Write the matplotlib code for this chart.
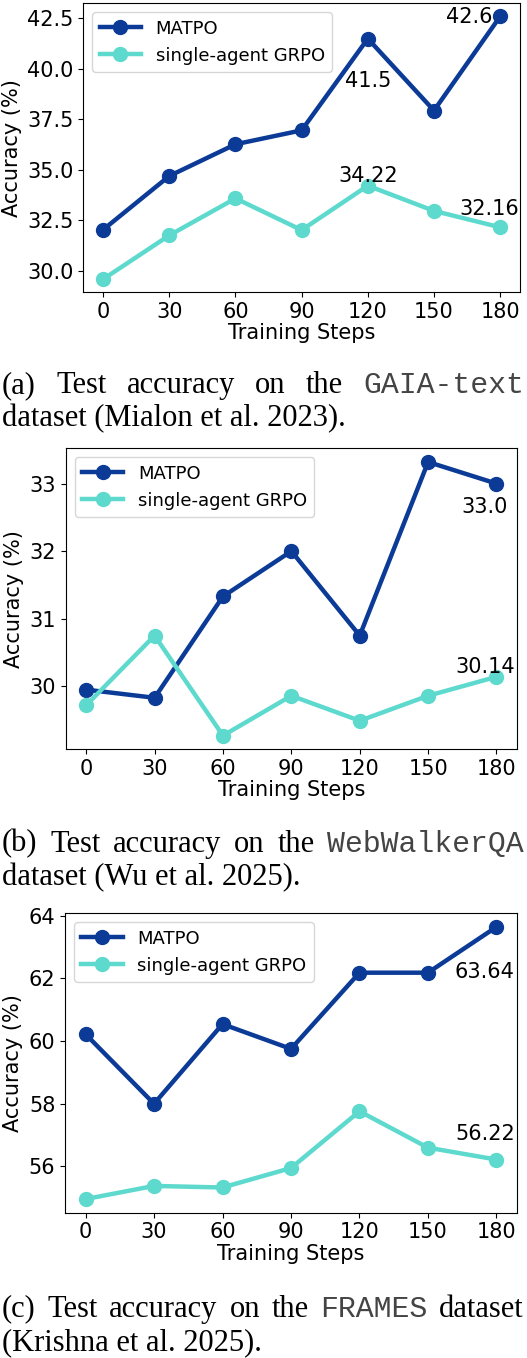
import matplotlib
matplotlib.use("Agg")
import matplotlib.pyplot as plt
from matplotlib.ticker import FormatStrFormatter

# ---------------- data ----------------
steps = [0, 30, 60, 90, 120, 150, 180]
series_names = ["MATPO", "single-agent GRPO"]

gaia_matpo = [32.04, 34.70, 36.27, 36.96, 41.5, 37.94, 42.6]
gaia_grpo = [29.59, 31.76, 33.59, 32.02, 34.22, 32.97, 32.16]

web_matpo = [29.95, 29.83, 31.33, 32.0, 30.75, 33.32, 33.0]
web_grpo = [29.72, 30.75, 29.27, 29.86, 29.49, 29.86, 30.14]

frames_matpo = [60.22, 58.0, 60.54, 59.75, 62.18, 62.18, 63.64]
frames_grpo = [54.96, 55.38, 55.33, 55.95, 57.76, 56.6, 56.22]

gaia_yticks = [30.0, 32.5, 35.0, 37.5, 40.0, 42.5]
web_yticks = [30, 31, 32, 33]
frames_yticks = [56, 58, 60, 62, 64]

xlabel = "Training Steps"
ylabel = "Accuracy (%)"

captions = [
    ([("(a)", "s"), ("Test", "s"), ("accuracy", "s"), ("on", "s"), ("the", "s"), ("GAIA-text", "m")],
     "dataset (Mialon et al. 2023)."),
    ([("(b)", "s"), ("Test", "s"), ("accuracy", "s"), ("on", "s"), ("the", "s"), ("WebWalkerQA", "m")],
     "dataset (Wu et al. 2025)."),
    ([("(c)", "s"), ("Test", "s"), ("accuracy", "s"), ("on", "s"), ("the", "s"), ("FRAMES", "m"), ("dataset", "s")],
     "(Krishna et al. 2025)."),
]

# ---------------- style ----------------
W, H = 527, 1358
C_MATPO = "#0b3b96"
C_GRPO = "#5ddacd"
FS = 15
LEG_FS = 13
CAP_FS = 22

fig = plt.figure(figsize=(W / 100, H / 100), dpi=100)


def px_axes(left, top, right, bottom):
    return fig.add_axes([left / W, 1 - bottom / H, (right - left) / W, (bottom - top) / H])


panels = [
    dict(box=(83.3, 3.3, 520, 292.3), m=gaia_matpo, g=gaia_grpo, yt=gaia_yticks, fmt="%.1f",
         ann=[("m", 6, (-22, -0.5)), ("m", 4, (0, -30.8)), ("g", 4, (0, 6.7)), ("g", 6, (-8.2, 13.4))]),
    dict(box=(65.7, 448.3, 517, 749.3), m=web_matpo, g=web_grpo, yt=web_yticks, fmt="%d",
         ann=[("m", 6, (-8.3, -16.8)), ("g", 6, (-8, 7.3))]),
    dict(box=(65.0, 913.3, 517, 1212.7), m=frames_matpo, g=frames_grpo, yt=frames_yticks, fmt="%d",
         ann=[("m", 6, (-8.3, -32.2)), ("g", 6, (-8.3, 18.2))]),
]

for p in panels:
    ax = px_axes(*p["box"])
    ax.plot(steps, p["m"], color=C_MATPO, lw=3.2, marker="o", ms=10, label=series_names[0])
    ax.plot(steps, p["g"], color=C_GRPO, lw=3.2, marker="o", ms=10, label=series_names[1])
    ax.set_xticks(steps)
    ax.set_yticks(p["yt"])
    ax.yaxis.set_major_formatter(FormatStrFormatter(p["fmt"]))
    ax.tick_params(labelsize=FS)
    ax.set_xlabel(xlabel, fontsize=FS, labelpad=1)
    ax.set_ylabel(ylabel, fontsize=FS)
    ax.legend(loc="upper left", fontsize=LEG_FS, handlelength=2.3)
    for which, idx, off in p["ann"]:
        vals = p["m"] if which == "m" else p["g"]
        ax.annotate(str(vals[idx]), (steps[idx], vals[idx]), xytext=off,
                    textcoords="offset points", ha="center", va="center", fontsize=FS)

# ---------------- captions (justified first line) ----------------
SERIF = "Liberation Serif"
MONO = "Liberation Mono"
baselines = [(393.3, 426.7), (851.7, 885.0), (1316.7, 1350.0)]
x_left, x_right = 2.0, 524.0

renderer = fig.canvas.get_renderer()
for (words, line2), (b1, b2) in zip(captions, baselines):
    texts = []
    for w, kind in words:
        if kind == "s":
            t = fig.text(0, 1 - b1 / H, w, fontsize=CAP_FS, family=SERIF,
                         va="baseline", ha="left", color="black")
        else:
            t = fig.text(0, 1 - b1 / H, w, fontsize=CAP_FS - 0.5, family=MONO,
                         va="baseline", ha="left", color="#444444")
        texts.append(t)
    widths = [t.get_window_extent(renderer).width for t in texts]
    gap = (x_right - x_left - sum(widths)) / (len(texts) - 1)
    x = x_left
    for t, wd in zip(texts, widths):
        t.set_x(x / W)
        x += wd + gap
    fig.text(x_left / W, 1 - b2 / H, line2, fontsize=CAP_FS, family=SERIF, va="baseline", ha="left")

fig.savefig("out.png", dpi=100)
